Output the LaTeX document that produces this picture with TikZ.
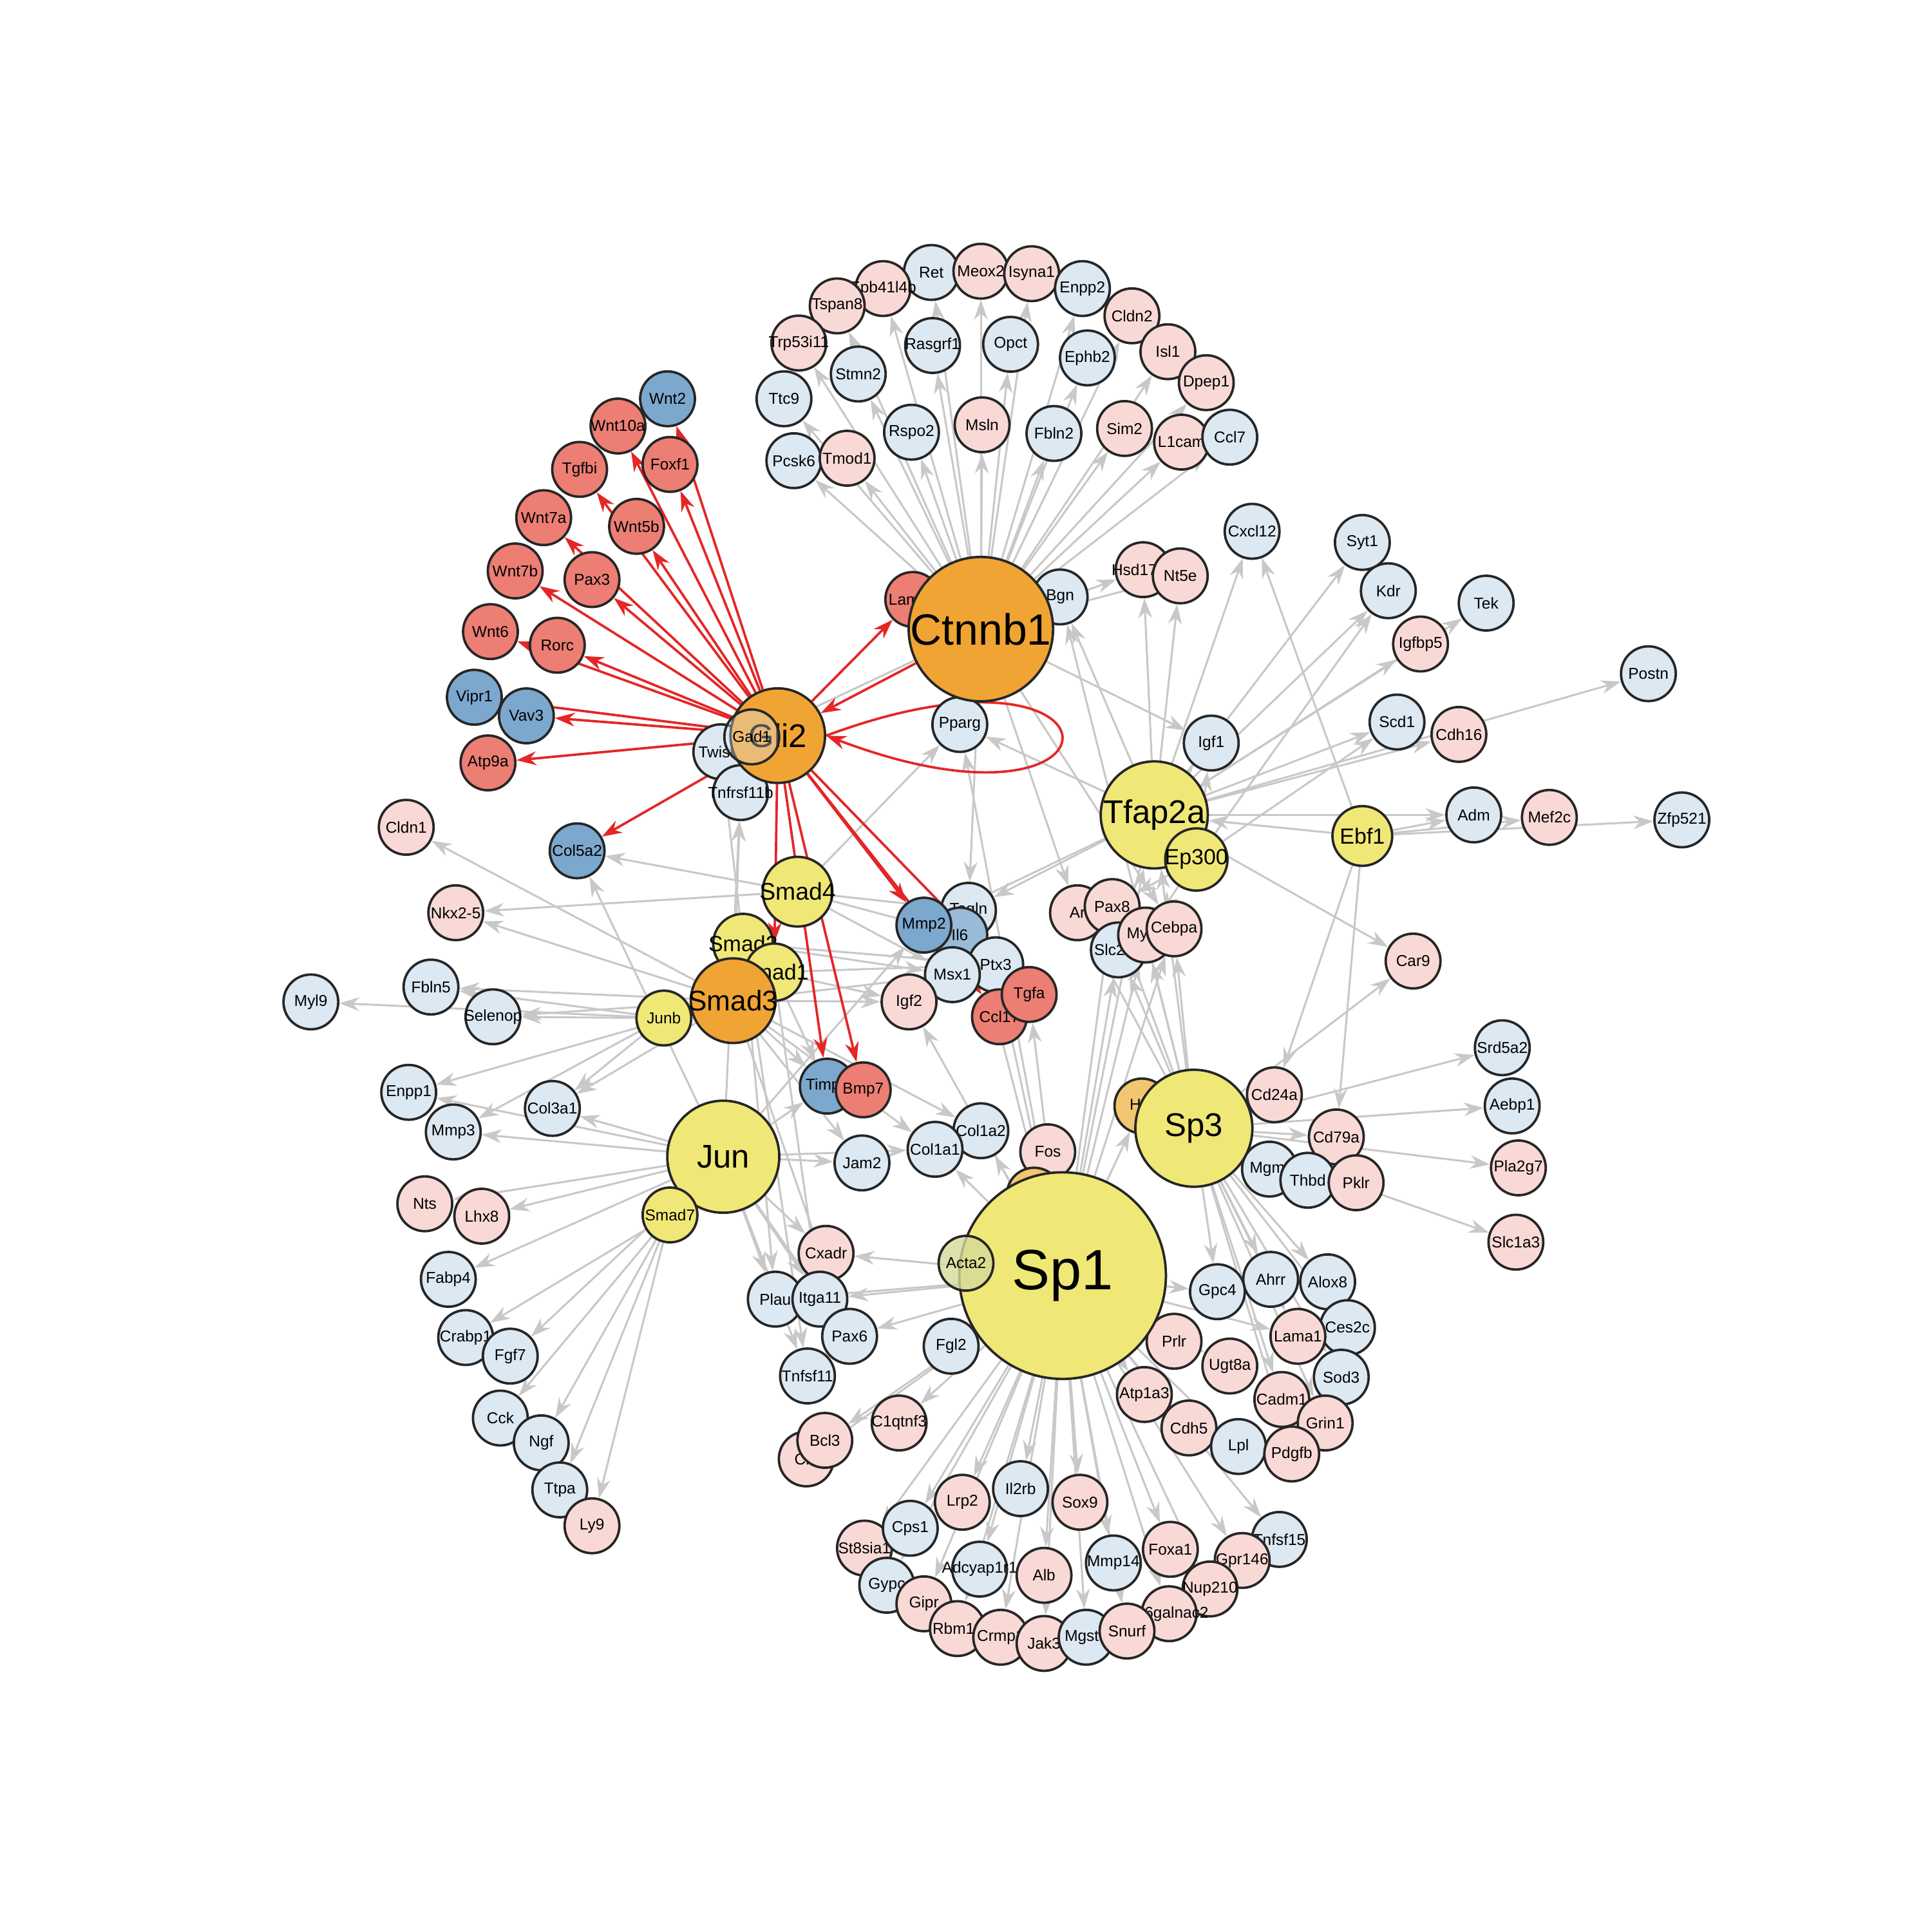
\documentclass[tikz,border=0pt]{standalone}
\usepackage{fontspec}
\setmainfont{Liberation Sans}
\usetikzlibrary{arrows.meta,backgrounds}
\definecolor{cbl}{RGB}{220,232,242}
\definecolor{cpk}{RGB}{249,217,214}
\definecolor{crd}{RGB}{236,126,116}
\definecolor{csb}{RGB}{124,168,206}
\definecolor{cyl}{RGB}{240,232,118}
\definecolor{cor}{RGB}{240,164,52}
\definecolor{clo}{RGB}{242,198,112}
\definecolor{cgy}{RGB}{214,218,152}
\definecolor{cge}{RGB}{200,200,200}
\definecolor{cre}{RGB}{228,38,38}
\tikzset{
 nd/.style={circle,draw=black!85,line width=0.55pt,minimum size=0.44cm,inner sep=0pt,font=\fontsize{3.6}{4}\selectfont},
 bl/.style={nd,fill=cbl}, pk/.style={nd,fill=cpk}, rd/.style={nd,fill=crd}, sb/.style={nd,fill=csb},
 yl/.style={nd,fill=cyl}, orn/.style={nd,fill=cor}, lo/.style={nd,fill=clo}, gyn/.style={nd,fill=cgy},
 ge/.style={draw=cge,line width=0.45pt,-{Stealth[length=1.6mm,width=1.1mm]}},
 re/.style={draw=cre,line width=0.55pt,-{Stealth[length=1.6mm,width=1.1mm]}},
}
\def\N#1#2#3#4#5{\node[#4] (#1) at ({#2/100},{-#3/100}) {\makebox[0pt]{#5}};}
\begin{document}
\begin{tikzpicture}[x=0.995cm,y=0.995cm]
\useasboundingbox (0,0) rectangle (15.6,-15.6);
% top arc
\N{Ret}{752}{220}{bl}{Ret}
\N{Meox2}{792}{219}{pk}{Meox2}
\N{Isyna1}{833}{221}{pk}{Isyna1}
\N{Enpp2}{874}{233}{bl}{Enpp2}
\N{Epb}{713}{233}{pk}{Epb41l4b}
\N{Tspan8}{676}{247}{pk}{Tspan8}
\N{Cldn2}{914}{255}{pk}{Cldn2}
\N{Trp}{645}{277}{pk}{Trp53i11}
\N{Isl1}{943}{284}{pk}{Isl1}
\N{Rasgrf1}{753}{279}{bl}{Rasgrf1}
\N{Opct}{816}{278}{bl}{Opct}
\N{Ephb2}{878}{289}{bl}{Ephb2}
\N{Dpep1}{974}{309}{pk}{Dpep1}
\N{Stmn2}{693}{302}{bl}{Stmn2}
\N{Ttc9}{633}{322}{bl}{Ttc9}
\N{Rspo2}{736}{349}{bl}{Rspo2}
\N{Msln}{793}{343}{pk}{Msln}
\N{Fbln2}{851}{350}{bl}{Fbln2}
\N{Sim2}{908}{346}{pk}{Sim2}
\N{L1cam}{954}{357}{pk}{L1cam}
\N{Ccl7}{993}{353}{bl}{Ccl7}
\N{Pcsk6}{641}{372}{bl}{Pcsk6}
\N{Tmod1}{684}{370}{pk}{Tmod1}
\N{Cxcl12}{1011}{429}{bl}{Cxcl12}
\N{Syt1}{1100}{438}{bl}{Syt1}
\N{Kdr}{1121}{477}{bl}{Kdr}
\N{Tek}{1200}{487}{bl}{Tek}
\N{Hsd}{923}{460}{pk}{Hsd17b2}
\N{Nt5e}{953}{465}{pk}{Nt5e}
\N{Bgn}{856}{482}{bl}{Bgn}
\N{Igfbp5}{1147}{520}{pk}{Igfbp5}
\N{Postn}{1331}{544}{bl}{Postn}
\N{Scd1}{1128}{583}{bl}{Scd1}
\N{Cdh16}{1178}{593}{pk}{Cdh16}
\N{Igf1}{978}{600}{bl}{Igf1}
\N{Adm}{1190}{658}{bl}{Adm}
\N{Mef2c}{1251}{660}{pk}{Mef2c}
\N{Zfp521}{1358}{662}{bl}{Zfp521}
% red group
\N{Wnt2}{539}{322}{sb}{Wnt2}
\N{Wnt10a}{499}{344}{rd}{Wnt10a}
\N{Foxf1}{541}{375}{rd}{Foxf1}
\N{Tgfbi}{468}{379}{rd}{Tgfbi}
\N{Wnt7a}{439}{418}{rd}{Wnt7a}
\N{Wnt5b}{514}{425}{rd}{Wnt5b}
\N{Pax3}{478}{468}{rd}{Pax3}
\N{Wnt7b}{416}{461}{rd}{Wnt7b}
\N{Wnt6}{396}{510}{rd}{Wnt6}
\N{Rorc}{450}{521}{rd}{Rorc}
\N{Vipr1}{383}{563}{sb}{Vipr1}
\N{Vav3}{425}{578}{sb}{Vav3}
\N{Atp9a}{394}{616}{rd}{Atp9a}
\N{Col5a2}{466}{687}{sb}{Col5a2}
\N{Cldn1}{328}{668}{pk}{Cldn1}
\N{Nkx}{368}{737}{pk}{Nkx2{-}5}
\N{Fbln5}{348}{797}{bl}{Fbln5}
\N{Myl9}{251}{809}{bl}{Myl9}
\N{Selenop}{398}{821}{bl}{Selenop}
\N{Enpp1}{330}{882}{bl}{Enpp1}
\N{Mmp3}{366}{914}{bl}{Mmp3}
\N{Col3a1}{446}{895}{bl}{Col3a1}
\N{Nts}{343}{972}{pk}{Nts}
\N{Lhx8}{389}{982}{pk}{Lhx8}
\N{Fabp4}{362}{1033}{bl}{Fabp4}
\N{Crabp1}{376}{1080}{bl}{Crabp1}
\N{Fgf7}{412}{1095}{bl}{Fgf7}
\N{Cck}{404}{1145}{bl}{Cck}
\N{Ngf}{437}{1165}{bl}{Ngf}
\N{Ttpa}{452}{1203}{bl}{Ttpa}
\N{Ly9}{478}{1232}{pk}{Ly9}
% center
\N{Pparg}{775}{585}{bl}{Pparg}
\N{Lamb3}{737}{484}{rd}{Lamb3}
\N{Twist1}{582}{607}{bl}{Twist1}
\N{Tnfrsf}{598}{640}{bl}{Tnfrsf11b}
\N{Tagln}{782}{735}{bl}{Tagln}
\N{Il6}{775}{755}{nd,fill=csb!70!cbl}{Il6}
\N{Mmp2}{746}{747}{sb}{Mmp2}
\N{Ptx3}{804}{779}{bl}{Ptx3}
\N{Msx1}{769}{787}{bl}{Msx1}
\N{Igf2}{734}{809}{pk}{Igf2}
\N{Ccl17}{807}{821}{rd}{Ccl17}
\N{Tgfa}{831}{803}{rd}{Tgfa}
\N{Ar}{870}{737}{pk}{Ar}
\N{Pax8}{898}{732}{pk}{Pax8}
\N{Slc2a3}{903}{767}{bl}{Slc2a3}
\N{Mycn}{925}{755}{pk}{Mycn}
\N{Cebpa}{948}{750}{pk}{Cebpa}
\N{Car9}{1141}{776}{pk}{Car9}
\N{Timp3}{668}{877}{sb}{Timp3}
\N{Bmp7}{697}{880}{rd}{Bmp7}
\N{Jam2}{696}{939}{bl}{Jam2}
\N{Col1a2}{792}{913}{bl}{Col1a2}
\N{Col1a1}{755}{928}{bl}{Col1a1}
\N{Fos}{846}{930}{pk}{Fos}
\N{Ucp2}{835}{965}{lo}{Ucp2}
\N{Hgf}{922}{893}{lo}{Hgf}
\N{Cd24a}{1029}{884}{pk}{Cd24a}
\N{Cd79a}{1079}{918}{pk}{Cd79a}
\N{Srd5a2}{1213}{846}{bl}{Srd5a2}
\N{Aebp1}{1221}{893}{bl}{Aebp1}
\N{Pla2g7}{1226}{943}{pk}{Pla2g7}
\N{Slc1a3}{1224}{1003}{pk}{Slc1a3}
\N{Mgmt}{1025}{944}{bl}{Mgmt}
\N{Thbd}{1056}{953}{bl}{Thbd}
\N{Pklr}{1095}{955}{pk}{Pklr}
\N{Cxadr}{667}{1012}{pk}{Cxadr}
\N{Plau}{626}{1049}{bl}{Plau}
\N{Itga11}{662}{1049}{bl}{Itga11}
\N{Pax6}{686}{1079}{bl}{Pax6}
\N{Fgl2}{768}{1087}{bl}{Fgl2}
\N{Tnfsf11}{652}{1111}{bl}{Tnfsf11}
\N{C1q}{726}{1149}{pk}{C1qtnf3}
\N{Clu}{651}{1178}{pk}{Clu}
\N{Bcl3}{666}{1163}{pk}{Bcl3}
\N{Ahr}{1026}{1033}{bl}{Ahrr}
\N{Alox8}{1072}{1035}{bl}{Alox8}
\N{Gpc4}{983}{1043}{bl}{Gpc4}
\N{Ces2c}{1088}{1072}{bl}{Ces2c}
\N{Lama1}{1048}{1079}{pk}{Lama1}
\N{Prlr}{948}{1083}{pk}{Prlr}
\N{Ugt8a}{993}{1103}{pk}{Ugt8a}
\N{Sod3}{1083}{1112}{bl}{Sod3}
\N{Cadm1}{1035}{1130}{pk}{Cadm1}
\N{Atp1a3}{924}{1126}{pk}{Atp1a3}
\N{Grin1}{1070}{1149}{pk}{Grin1}
\N{Cdh5}{960}{1153}{pk}{Cdh5}
\N{Lpl}{1000}{1168}{bl}{Lpl}
\N{Pdgfb}{1043}{1174}{pk}{Pdgfb}
\N{Il2rb}{824}{1202}{bl}{Il2rb}
\N{Lrp2}{777}{1213}{pk}{Lrp2}
\N{Sox9}{872}{1213}{pk}{Sox9}
\N{St8sia1}{698}{1250}{pk}{St8sia1}
\N{Cps1}{735}{1234}{bl}{Cps1}
\N{Tnfsf15}{1033}{1243}{bl}{Tnfsf15}
\N{Foxa1}{945}{1251}{pk}{Foxa1}
\N{Gpr146}{1003}{1260}{pk}{Gpr146}
\N{Adcy}{791}{1267}{bl}{Adcyap1r1}
\N{Alb}{843}{1272}{pk}{Alb}
\N{Mmp14}{899}{1262}{bl}{Mmp14}
\N{Gypc}{716}{1280}{bl}{Gypc}
\N{Gipr}{746}{1295}{pk}{Gipr}
\N{Nup210}{977}{1283}{pk}{Nup210}
\N{St6}{944}{1303}{pk}{St6galnac2}
\N{Rbm11}{773}{1315}{pk}{Rbm11}
\N{Crmp1}{808}{1322}{pk}{Crmp1}
\N{Jak3}{843}{1327}{pk}{Jak3}
\N{Mgst1}{877}{1322}{bl}{Mgst1}
\N{Snurf}{910}{1317}{pk}{Snurf}
% hubs
\N{Ctnnb1}{792}{508}{orn,minimum size=1.16cm,font=\fontsize{10}{11}\selectfont}{Ctnnb1}
\N{Gli2}{628}{594}{orn,minimum size=0.76cm,font=\fontsize{7.5}{8}\selectfont}{Gli2}
\N{Gad1}{607}{595}{nd,fill=cbl,fill opacity=0.35,text opacity=1}{Gad1}
\N{Tfap2a}{932}{658}{yl,minimum size=0.86cm,font=\fontsize{7.5}{8}\selectfont}{Tfap2a}
\N{Ep300}{966}{694}{yl,minimum size=0.5cm,font=\fontsize{5}{6}\selectfont}{Ep300}
\N{Ebf1}{1100}{675}{yl,minimum size=0.48cm,font=\fontsize{5}{6}\selectfont}{Ebf1}
\N{Smad4}{644}{720}{yl,minimum size=0.56cm,font=\fontsize{5.5}{6}\selectfont}{Smad4}
\N{Smad2}{600}{762}{yl,minimum size=0.48cm,font=\fontsize{5}{6}\selectfont}{Smad2}
\N{Smad1}{625}{785}{yl,minimum size=0.46cm,font=\fontsize{5}{6}\selectfont}{Smad1}
\N{Smad3}{592}{808}{orn,minimum size=0.68cm,font=\fontsize{6.5}{7}\selectfont}{Smad3}
\N{Junb}{536}{822}{yl}{Junb}
\N{Jun}{584}{934}{yl,minimum size=0.9cm,font=\fontsize{7.5}{8}\selectfont}{Jun}
\N{Smad7}{541}{981}{yl}{Smad7}
\N{Sp3}{964}{911}{yl,minimum size=0.94cm,font=\fontsize{7.5}{8}\selectfont}{Sp3}
\N{Sp1}{858}{1030}{yl,minimum size=1.66cm,font=\fontsize{13}{14}\selectfont}{Sp1}
\N{Acta2}{780}{1020}{gyn,fill opacity=0.8,text opacity=1}{Acta2}
\begin{scope}[on background layer]
\foreach \t in {Ret,Meox2,Isyna1,Enpp2,Epb,Tspan8,Cldn2,Trp,Isl1,Rasgrf1,Opct,Ephb2,Dpep1,Stmn2,Ttc9,Rspo2,Msln,Fbln2,Sim2,L1cam,Ccl7,Pcsk6,Tmod1,Hsd,Nt5e,Igf1,Bgn,Pparg,Tagln,Ar,Cebpa,Twist1}
  \draw[ge] (Ctnnb1) -- (\t);
\foreach \t in {Cxcl12,Syt1,Kdr,Tek,Igfbp5,Scd1,Cdh16,Postn,Adm,Car9,Hsd,Nt5e,Igf1,Pparg,Bgn,Mmp2,Tagln,Slc2a3}
  \draw[ge] (Tfap2a) -- (\t);
\foreach \t in {Adm,Mef2c,Zfp521,Cxcl12,Cd79a,Cd24a,Tfap2a}
  \draw[ge] (Ebf1) -- (\t);
\foreach \t in {Scd1,Kdr,Pax8,Mycn,Igf1}
  \draw[ge] (Ep300) -- (\t);
\foreach \t in {Srd5a2,Aebp1,Pla2g7,Slc1a3,Car9,Mgmt,Thbd,Pklr,Cd79a,Cd24a,Hgf,Alox8,Ces2c,Lama1,Sod3,Cadm1,Grin1,Pdgfb,Ahr,Gpc4,Tfap2a,Ar,Mycn,Cebpa,Bgn,Slc2a3,Pax8}
  \draw[ge] (Sp3) -- (\t);
\foreach \t in {Acta2,Fgl2,Itga11,Plau,Pax6,C1q,Bcl3,Clu,Cxadr,Col1a1,Col1a2,Fos,Ucp2,Prlr,Atp1a3,Cdh5,Lpl,Ugt8a,Tnfsf15,Foxa1,Gpr146,Nup210,St6,Snurf,Mgst1,Jak3,Crmp1,Rbm11,Gipr,Gypc,St8sia1,Cps1,Lrp2,Il2rb,Sox9,Alb,Mmp14,Adcy,Slc2a3,Pax8,Mycn,Tagln,Pparg,Ptx3,Tgfa,Igf2,Hgf,Cebpa,Tfap2a,Gpc4,Lama1}
  \draw[ge] (Sp1) -- (\t);
\foreach \t in {Nts,Lhx8,Fabp4,Fgf7,Mmp3,Enpp1,Col3a1,Col5a2,Plau,Tnfsf11,Jam2,Col1a1,Timp3,Cxadr,Itga11,Mmp2,Tnfrsf,Pax6}
  \draw[ge] (Jun) -- (\t);
\foreach \t in {Crabp1,Cck,Ngf,Ttpa,Ly9}
  \draw[ge] (Smad7) -- (\t);
\foreach \t in {Fbln5,Selenop,Myl9,Col3a1,Mmp3}
  \draw[ge] (Junb) -- (\t);
\foreach \t in {Nkx,Cldn1,Fbln5,Selenop,Enpp1,Col3a1,Timp3,Jam2,Igf2,Col1a1,Col1a2,Pax6,Msx1,Tnfrsf}
  \draw[ge] (Smad3) -- (\t);
\foreach \t in {Pparg,Msx1,Tagln,Col5a2,Nkx,Il6}
  \draw[ge] (Smad4) -- (\t);
\foreach \t in {Tnfsf11,Plau,Msx1,Ptx3,Twist1}
  \draw[ge] (Smad2) -- (\t);
\foreach \t in {Itga11,Timp3,Ptx3,Igf2}
  \draw[ge] (Smad1) -- (\t);
\foreach \t in {Wnt2,Wnt10a,Foxf1,Tgfbi,Wnt7a,Wnt5b,Pax3,Wnt7b,Wnt6,Rorc,Vipr1,Vav3,Atp9a,Col5a2,Lamb3,Mmp2,Tgfa,Timp3,Bmp7,Ccl17,Smad1}
  \draw[re] (Gli2) -- (\t);
\draw[re] (Ctnnb1) -- (Gli2);
\draw[re] (Gli2.east) .. controls (9.2,-5.0) and (9.2,-6.9) .. (Gli2.east);
\end{scope}
\end{tikzpicture}
\end{document}
